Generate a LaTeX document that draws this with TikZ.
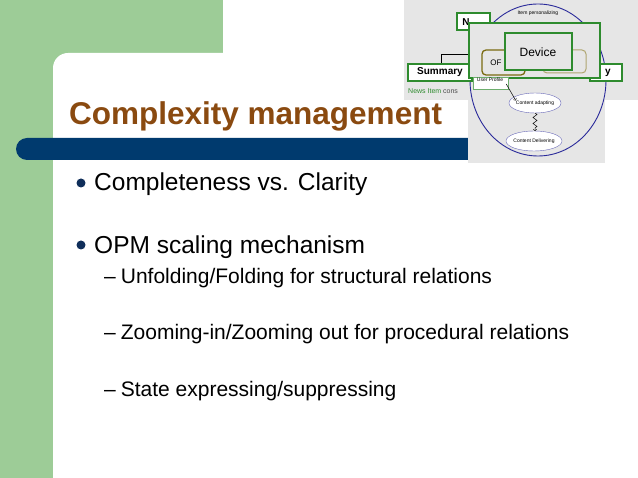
\documentclass[tikz,border=0pt]{standalone}
\usepackage{fontspec}
\setmainfont{Liberation Sans}
\usetikzlibrary{decorations.pathmorphing}
\definecolor{lgreen}{HTML}{9DCC97}
\definecolor{navy}{HTML}{003A6E}
\definecolor{brownt}{HTML}{8A4A10}
\definecolor{bullet}{HTML}{0F2E5A}
\definecolor{dgreen}{HTML}{2E8B2E}
\definecolor{olive}{HTML}{7A6A10}
\definecolor{lgray}{HTML}{E6E6E6}
\definecolor{ovblue}{HTML}{2A2A9A}
\tikzset{
 bul/.style={anchor=base west,font=\fontsize{24.5}{26}\selectfont,text=black,inner sep=0},
 sub/.style={anchor=base west,font=\fontsize{21}{23}\selectfont,text=black,inner sep=0},
 gbox/.style={draw=dgreen,line width=1.2pt},
 tiny/.style={font=\fontsize{5}{6}\selectfont,inner sep=0}
}
\begin{document}
\begin{tikzpicture}[x=1pt,y=-1pt]
\useasboundingbox (0,0) rectangle (638,478);
\fill[lgreen] (0,0) rectangle (223,478);
\fill[white] (53,478) -- (53,68) arc[start angle=180,end angle=270,radius=15] -- (223,53) -- (223,0) -- (638,0) -- (638,478) -- cycle;
\fill[navy,rounded corners=11] (16,138) rectangle (590,160);
\node[anchor=base west,font=\bfseries\fontsize{31.5}{34}\selectfont,text=brownt,inner sep=0] (title) at (69,125) {Complexity management};
\fill[bullet] (81,183) circle[radius=4.5];
\node[bul] (b1) at (94,191) {Completeness vs. Clarity};
\fill[bullet] (81,245) circle[radius=4.5];
\node[bul] (b2) at (94,254) {OPM scaling mechanism};
\node[sub] (s1) at (104,284) {–\hspace{5pt}Unfolding/Folding for structural relations};
\node[sub] (s2) at (104,340) {–\hspace{5pt}Zooming-in/Zooming out for procedural relations};
\node[sub] (s3) at (104,397) {–\hspace{5pt}State expressing/suppressing};
% collage
\fill[lgray] (404,0) rectangle (638,100);
\fill[lgray] (468,20) rectangle (605,163);
\draw[ovblue,line width=0.9pt] (538,80) ellipse[x radius=68,y radius=76];
\node[tiny] (ip) at (538,13) {Item personalizing};
\draw[gbox,fill=white] (457,13) rectangle (490,30);
\node[font=\bfseries\fontsize{10}{10}\selectfont,inner sep=0] (nn) at (466,22) {N};
\draw[black,line width=1pt] (441,63) -- (441,55) -- (470,55);
\draw[gbox,fill=white] (408,64) rectangle (472,81);
\node[font=\bfseries\fontsize{10}{10}\selectfont,inner sep=0] (sum) at (440,72.5) {Summary};
\draw[gbox,fill=white] (590,64) rectangle (622,81);
\node[font=\bfseries\fontsize{10}{10}\selectfont,inner sep=0] (yy) at (608,72.5) {y};
\draw[gbox,fill=lgray] (469,23) rectangle (600,78);
\draw[olive,line width=1.3pt,rounded corners=4,fill=lgray] (482,50) rectangle (525,75);
\node[font=\fontsize{8}{8}\selectfont,inner sep=0] (of) at (496,63) {OF};
\draw[olive!60,line width=1pt,rounded corners=4] (543,50) rectangle (586,73);
\draw[gbox,fill=lgray] (505,33) rectangle (572,70);
\node[font=\fontsize{12}{12}\selectfont,inner sep=0] (dev) at (538,52) {Device};
\draw[dgreen!70,fill=white,line width=0.6pt] (473,77) rectangle (508,89);
\node[tiny] (up) at (490,80) {User Profile};
\node[anchor=base west,font=\fontsize{7}{7}\selectfont\rmfamily,inner sep=0,text=dgreen] (news) at (408,94) {News Item \textcolor{black!70}{cons}};
\draw[ovblue!70,fill=white] (535,103) ellipse[x radius=26,y radius=10];
\node[tiny] (ca) at (535,103) {Content adapting};
\draw[ovblue!70,fill=white] (534,141) ellipse[x radius=28,y radius=10];
\node[tiny] (cd) at (534,141) {Content Delivering};
\draw[->,line width=0.5pt] (up.south east) ++(3,2) -- (ca.north west);
\draw[->,line width=0.5pt,decorate,decoration={zigzag,amplitude=2,segment length=6,post length=3}] (535,113) -- (535,131);
\end{tikzpicture}
\end{document}
